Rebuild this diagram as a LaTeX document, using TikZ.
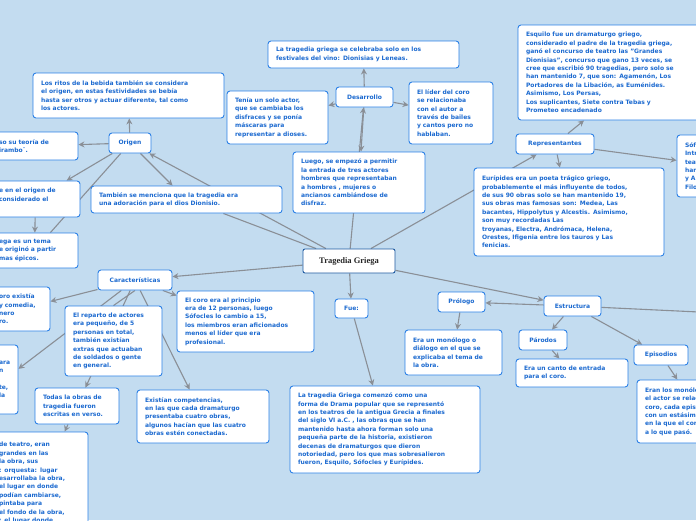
\documentclass[tikz,border=0pt]{standalone}
\usepackage{fontspec}
\setmainfont{DejaVu Sans}
\usetikzlibrary{arrows.meta,backgrounds}
\definecolor{bgc}{HTML}{C3DCF0}
\definecolor{bc}{HTML}{2B80E6}
\definecolor{tc}{HTML}{1C6AD0}
\definecolor{lc}{HTML}{8A8F96}
\tikzset{
 bx/.style 2 args={draw=bc, fill=white, rounded corners=3pt, line width=0.9pt, text=tc,
   font=\bfseries\fontsize{6}{8.4}\selectfont, align=left, inner xsep=8pt, inner ysep=2pt,
   minimum width=#1, minimum height=#2, text width=#1-16pt},
 lb/.style 2 args={draw=bc, fill=white, rounded corners=3pt, line width=0.9pt, text=tc,
   font=\bfseries\fontsize{6}{8}\selectfont, align=center, inner sep=1pt,
   minimum width=#1, minimum height=#2},
 ar/.style={draw=lc, line width=1.1pt, -{Stealth[length=6pt,width=6pt]}},
 ln/.style={draw=lc, line width=1.1pt},
}
\begin{document}
\begin{tikzpicture}[x=1pt,y=-1pt]
\useasboundingbox (0,0) rectangle (696,520);
\clip (0,0) rectangle (696,520);
\begin{pgfonlayer}{background}
\fill[bgc] (0,0) rectangle (696,520);
\end{pgfonlayer}
\node[draw=bc!70!black, fill=white, rounded corners=2pt, line width=0.9pt, minimum width=92, minimum height=24, font=\setmainfont{Liberation Serif}\bfseries\fontsize{8.5}{10}\selectfont, text=black!85] (main) at (349,261) {Tragedia Griega};
% Origen
\node[lb={42}{20}] (orig) at (130,143) {Origen};
\node[bx={191}{45}] (ritos) at (128.5,95.5) {Los ritos de la bebida también se considera\\el origen, en estas festividades se bebía\\hasta ser otros y actuar diferente, tal como\\los actores.};
\node[bx={87}{28}] (l1) at (34.5,146) {so su teoría de\\irambo¨.};
\node[bx={89}{36}] (l2) at (35.5,199) {e en el origen de\\considerado el\\~};
\node[bx={87}{35}] (l3) at (34.5,250.5) {ega es un tema\\e originó a partir\\mas épicos.};
\node[bx={191}{27}] (tamb) at (186.5,199.5) {También se menciona que la tragedia era\\una adoración para el dios Dionisio.};
% Desarrollo
\node[lb={57}{20}] (des) at (364.5,97) {Desarrollo};
\node[bx={191}{27}] (cel) at (363.5,54.5) {La tragedia griega se celebraba solo en los\\festivales del vino: Dionisias y Leneas.};
\node[bx={101}{53}] (ten) at (277.5,117.5) {Tenía un solo actor,\\que se cambiaba los\\disfraces y se ponía\\máscaras para\\representar a dioses.};
\node[bx={84}{62}] (lid) at (451,113) {El líder del coro\\se relacionaba\\con el autor a\\través de bailes\\y cantos pero no\\hablaban.};
\node[bx={132}{61}] (lue) at (359,182.5) {Luego, se empezó a permitir\\la entrada de tres actores\\hombres que representaban\\a hombres , mujeres o\\ancianos cambiándose de\\disfraz.};
% Representantes
\node[lb={78}{20}] (rep) at (555,144) {Representantes};
\node[bx={250}{95}] (esq) at (643,72.5) {Esquilo fue un dramaturgo griego,\\considerado el padre de la tragedia griega,\\ganó el concurso de teatro las "Grandes\\Dionisias", concurso que gano 13 veces, se\\cree que escribió 90 tragedias, pero solo se\\han mantenido 7, que son: Agamenón, Los\\Portadores de la Libación, as Euménides.\\Asimismo, Los Persas,\\Los suplicantes, Siete contra Tebas y\\Prometeo encadenado};
\node[bx={83}{62}] (sof) at (718.5,166) {Sófocles\\Introdujo\\teatro\\hará\\y Antígona\\Filoctetes};
\node[bx={190}{88}] (eur) at (569,212) {Eurípides era un poeta trágico griego,\\probablemente el más influyente de todos,\\de sus 90 obras solo se han mantenido 19,\\sus obras mas famosas son: Medea, Las\\bacantes, Hippolytus y Alcestis. Asimismo,\\son muy recordadas Las\\troyanas, Electra, Andrómaca, Helena,\\Orestes, Ifigenia entre los tauros y Las\\fenicias.};
% Caracteristicas
\node[lb={74}{20}] (car) at (135,280) {Características};
\node[bx={59}{44}] (l4) at (20.5,309) {oro existía\\y comedia,\\nero\\ro.};
\node[bx={27}{69}] (l5) at (4.5,379.5) {ara\\n\\~\\te,\\la};
\node[bx={97}{70}] (rpt) at (113.5,341) {El reparto de actores\\era pequeño, de 5\\personas en total,\\también existían\\extras que actuaban\\de soldados o gente\\en general.};
\node[bx={84}{36}] (tod) at (77,406) {Todas la obras de\\tragedia fueron\\escritas en verso.};
\node[bx={97}{102}] (l6) at (39.5,483) {de teatro, eran\\grandes en las\\la obra, sus\\: orquesta: lugar\\esarrollaba la obra,\\el lugar en donde\\podían cambiarse,\\pintaba para\\el fondo de la obra,\\: el lugar donde};
\node[bx={137}{61}] (cor) at (245.5,321.5) {El coro era al principio\\era de 12 personas, luego\\Sófocles lo cambio a 15,\\los miembros eran aficionados\\menos el líder que era\\profesional.};
\node[bx={132}{53}] (exi) at (203,416.5) {Existían competencias,\\en las que cada dramaturgo\\presentaba cuatro obras,\\algunos hacían que las cuatro\\obras estén conectadas.};
% Fue
\node[lb={33}{19}] (fue) at (351.5,308.5) {Fue:};
\node[bx={190}{87}] (com) at (385,429.5) {La tragedia Griega comenzó como una\\forma de Drama popular que se representó\\en los teatros de la antigua Grecia a finales\\del siglo VI a.C. , las obras que se han\\mantenido hasta ahora forman solo una\\pequeña parte de la historia, existieron\\decenas de dramaturgos que dieron\\notoriedad, pero los que mas sobresalieron\\fueron, Esquilo, Sófocles y Eurípides.};
% Estructura
\node[lb={57}{20}] (est) at (572.5,306) {Estructura};
\node[lb={47}{20}] (pro) at (461.5,302) {Prólogo};
\node[bx={97}{45}] (mon) at (453.5,352.5) {Era un monólogo o\\diálogo en el que se\\explicaba el tema de\\la obra.};
\node[lb={48}{20}] (par) at (543,340) {Párodos};
\node[bx={112}{28}] (can) at (572,373) {Era un canto de entrada\\para el coro.};
\node[lb={54}{20}] (epi) at (661,355) {Episodios};
\node[bx={123}{63}] (era) at (698.5,411.5) {Eran los monólogos en que\\el actor se relacionaba con el\\coro, cada episodio terminaba\\con un estásimo, una canción\\en la que el coro reflexionaba\\a lo que pasó.};
\coordinate (offr) at (720,313);
\begin{pgfonlayer}{background}
\draw[ar] (main) -- (orig);
\draw[ar] (orig) -- (ritos);
\draw[ar] (orig) -- (l1);
\draw[ar] (orig) -- (l2);
\draw[ln] (orig) -- (l3);
\draw[ar] (l2) -- (l3);
\draw[ar] (orig) -- (tamb);
\draw[ln] (tamb) -- (main);
\draw[ar] (main) -- (des);
\draw[ar] (des) -- (lue);
\draw[ar] (des) -- (cel);
\draw[ar] (des) -- (ten);
\draw[ar] (des) -- (lid);
\draw[ar] (main) -- (rep);
\draw[ar] (rep) -- (esq);
\draw[ar] (rep) -- (sof);
\draw[ar] (rep) -- (eur);
\draw[ar] (main) -- (car);
\draw[ar] (car) -- (l4);
\draw[ar] (car) -- (l5);
\draw[ar] (car) -- (tod);
\draw[ln] (car.south) -- (rpt.north);
\draw[ar] (tod) -- (l6);
\draw[ar] (car) -- (cor);
\draw[ar] (car) -- (exi);
\draw[ar] (main) -- (fue);
\draw[ar] (fue) -- (com);
\draw[ar] (main) -- (est);
\draw[ar] (est) -- (pro);
\draw[ar] (pro) -- (mon);
\draw[ar] (est) -- (par);
\draw[ar] (par) -- (can);
\draw[ar] (est) -- (epi);
\draw[ar] (epi) -- (era);
\draw[ln] (est) -- (offr);
\end{pgfonlayer}
\end{tikzpicture}
\end{document}
